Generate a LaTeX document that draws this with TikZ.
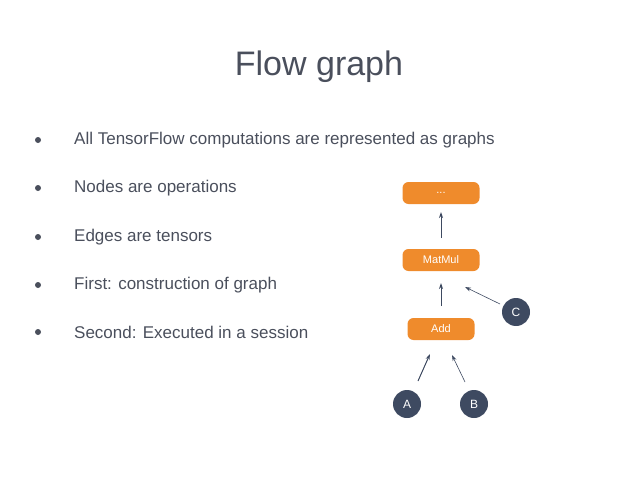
\documentclass[tikz,border=0pt]{standalone}
\usepackage{fontspec}
\setmainfont{Liberation Sans}
\usetikzlibrary{arrows.meta}
\definecolor{org}{HTML}{EF8B2C}
\definecolor{navy}{HTML}{3E4A61}
\definecolor{txt}{HTML}{4A4F5C}
\begin{document}
\begin{tikzpicture}[x=1pt,y=-1pt,
  op/.style={fill=org,rounded corners=6pt,text=white,font=\fontsize{11}{13}\selectfont,minimum height=22pt,inner sep=0pt},
  var/.style={circle,fill=navy,text=white,minimum size=28pt,inner sep=0pt,font=\fontsize{12}{14}\selectfont},
  bul/.style={anchor=west,text=txt,font=\fontsize{17}{20}\selectfont,inner sep=0pt},
  arr/.style={-{Stealth[length=6pt,width=4pt]},draw=navy,line width=1pt}]
\useasboundingbox (0,0) rectangle (638,479);
\node[text=txt,font=\fontsize{34}{40}\selectfont] (title) at (319,67) {Flow graph};
\foreach \y/\t [count=\i] in {140/All TensorFlow computations are represented as graphs,188/Nodes are operations,237/Edges are tensors,285/First: construction of graph,332/Second: Executed in a session}{
  \node[bul] (b\i) at (74,\y) {\t};
  \fill[txt] (38,\y) circle (3pt);
}
\node[op,minimum width=77pt] (dots) at (441,193) {...};
\node[op,minimum width=77pt] (mm) at (441,260) {MatMul};
\node[op,minimum width=67pt] (add) at (441,329) {Add};
\node[var] (A) at (407,404) {A};
\node[var] (B) at (474,404) {B};
\node[var] (C) at (516,312) {C};
\coordinate (a1) at (441,238); \coordinate (a2) at (441,212);
\coordinate (b1) at (441,306); \coordinate (b2) at (441,283);
\coordinate (c1) at (500,304); \coordinate (c2) at (465,287);
\coordinate (d1) at (418,381); \coordinate (d2) at (430,354);
\coordinate (e1) at (465,382); \coordinate (e2) at (452,355);
\draw[arr] (a1) -- (a2);
\draw[arr] (b1) -- (b2);
\draw[arr,line width=0.6pt] (c1) -- (c2);
\draw[arr] (d1) -- (d2);
\draw[arr,line width=0.6pt] (e1) -- (e2);
\end{tikzpicture}
\end{document}
